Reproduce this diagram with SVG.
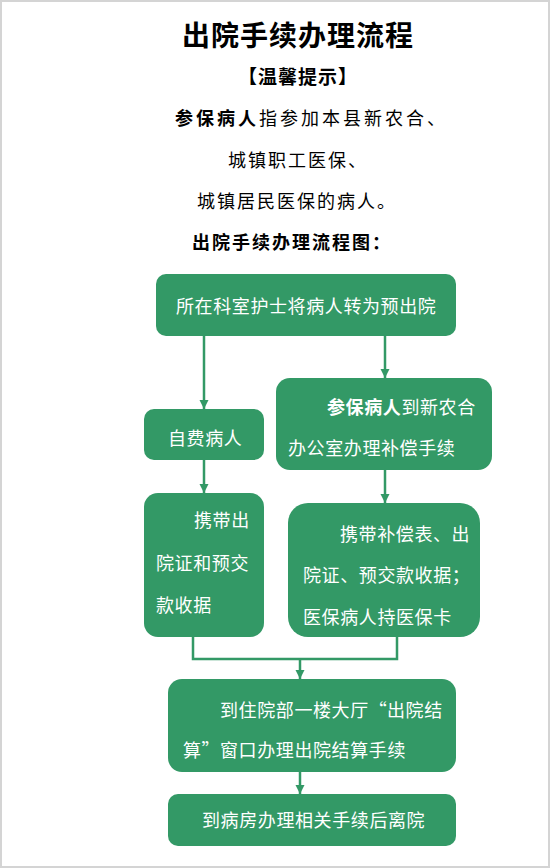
<svg xmlns="http://www.w3.org/2000/svg" width="550" height="868" viewBox="0 0 550 868">
<style>
.t{font-family:"Noto Sans CJK SC","Noto Sans",sans-serif;fill:#000}
.b{font-family:"Noto Sans CJK SC","Noto Sans",sans-serif;fill:#fff;font-size:18px;letter-spacing:0.6px}
.box{fill:#339966}
.con{fill:none;stroke:#339966;stroke-width:2.5}
</style>
<defs>
<marker id="ah" markerUnits="userSpaceOnUse" markerWidth="10" markerHeight="10" refX="9" refY="5" orient="auto">
<path d="M0,0.5 L9,5 L0,9.5 z" fill="#339966"/>
</marker>
</defs>
<rect x="1" y="1" width="548" height="866" fill="#fff" stroke="#d4d4d4" stroke-width="2"/>

<g id="header">
<text class="t" x="297.5" y="46" font-size="28" font-weight="bold" text-anchor="middle" textLength="231">出院手续办理流程</text>
<text class="t" x="238" y="84" font-size="19" font-weight="bold" letter-spacing="1">【温馨提示】</text>
<text class="t" x="175" y="125" font-size="18" letter-spacing="3"><tspan font-weight="bold">参保病人</tspan>指参加本县新农合、</text>
<text class="t" x="228" y="167" font-size="18" letter-spacing="2">城镇职工医保、</text>
<text class="t" x="197" y="208" font-size="18" letter-spacing="2">城镇居民医保的病人。</text>
<text class="t" x="192" y="249" font-size="18" font-weight="bold" letter-spacing="2">出院手续办理流程图：</text>
</g>

<g id="connectors">
<path class="con" d="M204,336 V409" marker-end="url(#ah)"/>
<path class="con" d="M385,336 V378" marker-end="url(#ah)"/>
<path class="con" d="M204,460 V493" marker-end="url(#ah)"/>
<path class="con" d="M385,470 V503" marker-end="url(#ah)"/>
<path class="con" d="M193,637 V659 H397 V637"/>
<path class="con" d="M300,659 V679" marker-end="url(#ah)"/>
<path class="con" d="M300,772 V794" marker-end="url(#ah)"/>
</g>

<g id="n1">
<rect class="box" x="156" y="274" width="300" height="62" rx="10"/>
<text class="b" x="176" y="313">所在科室护士将病人转为预出院</text>
</g>

<g id="n2">
<rect class="box" x="144" y="409" width="120" height="51" rx="10"/>
<text class="b" x="168" y="445">自费病人</text>
</g>

<g id="n3">
<rect class="box" x="276" y="378" width="216" height="92" rx="14"/>
<text class="b" x="327" y="414" letter-spacing="1"><tspan font-weight="bold">参保病人</tspan>到新农合</text>
<text class="b" x="288" y="455">办公室办理补偿手续</text>
</g>

<g id="n4">
<rect class="box" x="144" y="493" width="120" height="144" rx="14"/>
<text class="b" x="194" y="527" letter-spacing="1.5">携带出</text>
<text class="b" x="156" y="570" letter-spacing="1.5">院证和预交</text>
<text class="b" x="156" y="612" letter-spacing="1.5">款收据</text>
</g>

<g id="n5">
<rect class="box" x="288" y="503" width="192" height="134" rx="20"/>
<text class="b" x="340" y="541">携带补偿表、出</text>
<text class="b" x="303" y="582" letter-spacing="1">院证、预交款收据；</text>
<text class="b" x="303" y="624" letter-spacing="1">医保病人持医保卡</text>
</g>

<g id="n6">
<rect class="box" x="168" y="679" width="288" height="93" rx="14"/>
<text class="b" x="220" y="717">到住院部一楼大厅“<tspan x="387">出院结</tspan></text>
<text class="b" x="183" y="757">算”<tspan x="220">窗口办理出院结算手续</tspan></text>
</g>

<g id="n7">
<rect class="box" x="168" y="794" width="288" height="52" rx="10"/>
<text class="b" x="202" y="827">到病房办理相关手续后离院</text>
</g>
</svg>
